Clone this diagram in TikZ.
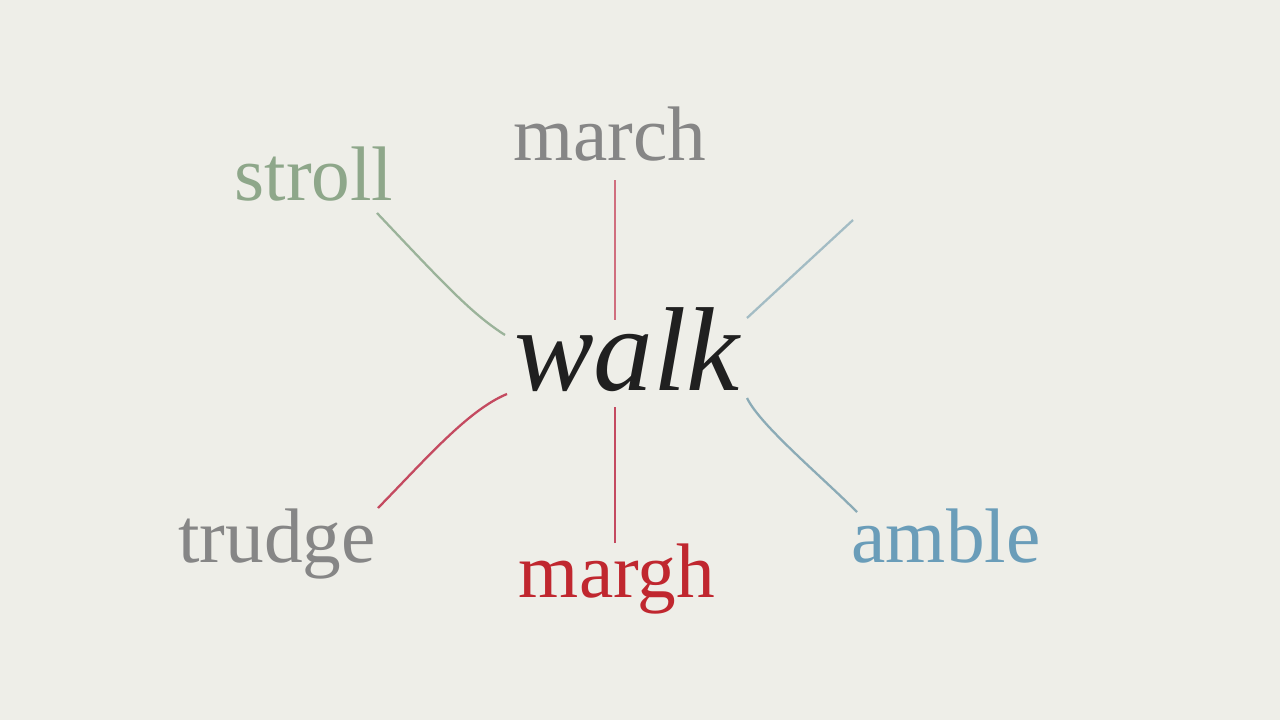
\documentclass[tikz,border=0pt]{standalone}
\usepackage{fontspec}
\setmainfont{Liberation Serif}
\usepackage{tikz}
\definecolor{paper}{HTML}{EEEEE8}
\definecolor{sagegreen}{HTML}{8EA78A}
\definecolor{stonegray}{HTML}{868686}
\definecolor{brickred}{HTML}{C0272F}
\definecolor{steelblue}{HTML}{6A9DB9}
\definecolor{inkblack}{HTML}{202020}
\definecolor{pinkline}{HTML}{D06E7E}
\definecolor{greenline}{HTML}{9BB39A}
\definecolor{blueline}{HTML}{A3BCC4}
\definecolor{redline}{HTML}{C44A60}
\definecolor{tealline}{HTML}{8BABB6}

\begin{document}
\begin{tikzpicture}[x=0.02cm, y=-0.02cm,
        word/.style={inner sep=0pt, anchor=base, font=\fontsize{44}{48}\selectfont},
        link/.style={line width=1.3pt}]
        \fill[paper] (0,0) rectangle (1280,720);
        \useasboundingbox (0,0) rectangle (1280,720);

        % words
        \node[word, inkblack, font=\fontsize{68}{72}\selectfont\itshape] (walk) at (627,390) {walk};
        \node[word, stonegray] (march) at (610,160) {march};
        \node[word, sagegreen] (stroll) at (314,200) {stroll};
        \node[word, stonegray] (trudge) at (277,562) {trudge};
        \node[word, brickred] (margh) at (617,597) {margh};
        \node[word, steelblue] (amble) at (946,562) {amble};
        \coordinate (open) at (853,220);

        % links to walk
        \draw[link, pinkline] ([shift={(5,20)}]march.base) -- ([shift={(-12,-70)}]walk.base);
        \draw[link, greenline] ([shift={(63,13)}]stroll.base) .. controls (445,285) and (472,314) .. ([shift={(-122,-55)}]walk.base);
        \draw[link, blueline] (open) -- ([shift={(120,-72)}]walk.base);
        \draw[link, redline] ([shift={(101,-54)}]trudge.base) .. controls (425,460) and (468,410) .. ([shift={(-120,4)}]walk.base);
        \draw[link, redline] ([shift={(-2,-54)}]margh.base) -- ([shift={(-12,17)}]walk.base);
        \draw[link, tealline] ([shift={(-89,-50)}]amble.base) .. controls (820,475) and (760,425) .. ([shift={(120,8)}]walk.base);
\end{tikzpicture}
\end{document}
